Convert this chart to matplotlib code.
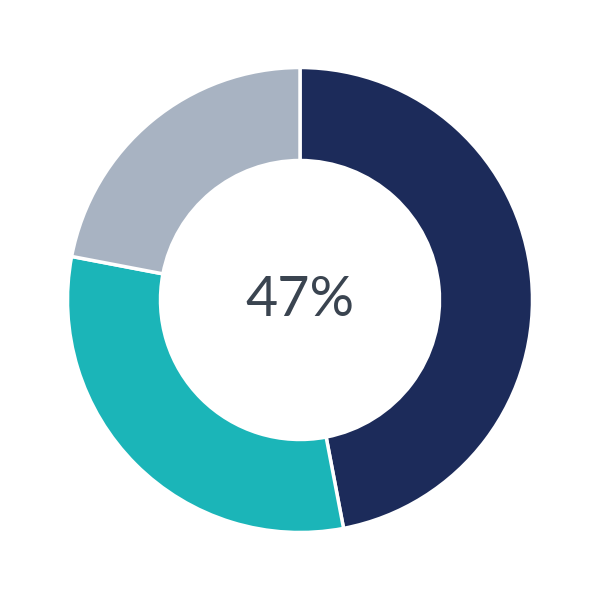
import matplotlib.pyplot as plt

labels = ["A", "B", "C"]
values = [47, 31, 22]
colors = ["#1c2b5a", "#1bb5b8", "#a8b3c2"]
center_text = "47%"

fig, ax = plt.subplots(figsize=(6, 6), dpi=100)
fig.subplots_adjust(left=0, right=1, bottom=0, top=1)

ax.pie(values, colors=colors, startangle=90, counterclock=False,
       radius=0.775, wedgeprops=dict(width=0.31, edgecolor="white", linewidth=2.5))
ax.text(0, 0, center_text, ha="center", va="center", fontsize=40,
        color="#3a4450", family="Lato")
ax.set_xlim(-1, 1)
ax.set_ylim(-1, 1)
ax.set_aspect("equal")
ax.axis("off")

plt.savefig("out.png", dpi=100, facecolor="white")
